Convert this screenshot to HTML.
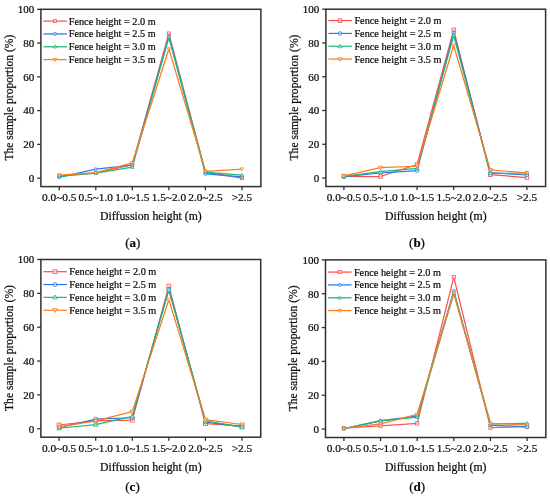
<!DOCTYPE html>
<html><head><meta charset="utf-8"><title>Figure</title>
<style>
html,body{margin:0;padding:0;background:#fff;}
svg{display:block;font-family:"Liberation Serif","Times New Roman",serif;fill:#0a0a0a;}
text{stroke:#0a0a0a;stroke-width:0.22px;}
</style></head><body>
<svg width="550" height="498" viewBox="0 0 550 498">
<rect width="550" height="498" fill="#fff"/>
<g><rect x="40.9" y="9.3" width="220.00" height="177.30" fill="none" stroke="#303030" stroke-width="1.5"/>
<line x1="37.20" x2="40.9" y1="178.16" y2="178.16" stroke="#303030" stroke-width="1.3"/>
<text x="34.30" y="181.96" text-anchor="end" font-size="11">0</text>
<line x1="37.20" x2="40.9" y1="144.39" y2="144.39" stroke="#303030" stroke-width="1.3"/>
<text x="34.30" y="148.19" text-anchor="end" font-size="11">20</text>
<line x1="37.20" x2="40.9" y1="110.61" y2="110.61" stroke="#303030" stroke-width="1.3"/>
<text x="34.30" y="114.41" text-anchor="end" font-size="11">40</text>
<line x1="37.20" x2="40.9" y1="76.84" y2="76.84" stroke="#303030" stroke-width="1.3"/>
<text x="34.30" y="80.64" text-anchor="end" font-size="11">60</text>
<line x1="37.20" x2="40.9" y1="43.07" y2="43.07" stroke="#303030" stroke-width="1.3"/>
<text x="34.30" y="46.87" text-anchor="end" font-size="11">80</text>
<line x1="37.20" x2="40.9" y1="9.30" y2="9.30" stroke="#303030" stroke-width="1.3"/>
<text x="34.30" y="13.10" text-anchor="end" font-size="11">100</text>
<line x1="59.20" x2="59.20" y1="186.6" y2="190.20" stroke="#303030" stroke-width="1.3"/>
<text x="59.20" y="201.30" text-anchor="middle" font-size="11.3">0.0~0.5</text>
<line x1="95.76" x2="95.76" y1="186.6" y2="190.20" stroke="#303030" stroke-width="1.3"/>
<text x="95.76" y="201.30" text-anchor="middle" font-size="11.3">0.5~1.0</text>
<line x1="132.32" x2="132.32" y1="186.6" y2="190.20" stroke="#303030" stroke-width="1.3"/>
<text x="132.32" y="201.30" text-anchor="middle" font-size="11.3">1.0~1.5</text>
<line x1="168.88" x2="168.88" y1="186.6" y2="190.20" stroke="#303030" stroke-width="1.3"/>
<text x="168.88" y="201.30" text-anchor="middle" font-size="11.3">1.5~2.0</text>
<line x1="205.44" x2="205.44" y1="186.6" y2="190.20" stroke="#303030" stroke-width="1.3"/>
<text x="205.44" y="201.30" text-anchor="middle" font-size="11.3">2.0~2.5</text>
<line x1="242.00" x2="242.00" y1="186.6" y2="190.20" stroke="#303030" stroke-width="1.3"/>
<text x="242.00" y="201.30" text-anchor="middle" font-size="11.3">&gt;2.5</text>
<text x="150.90" y="220.40" text-anchor="middle" font-size="11.76">Diffussion height (m)</text>
<text transform="translate(12.70 97.65) rotate(-90)" text-anchor="middle" font-size="11.6">The sample proportion (%)</text>
<polyline points="59.20,175.62 95.76,173.09 132.32,164.65 168.88,33.45 205.44,172.25 242.00,178.16" fill="none" stroke="#FF5458" stroke-width="1.3" stroke-linejoin="round"/>
<polyline points="59.20,177.31 95.76,169.21 132.32,165.16 168.88,36.49 205.44,173.94 242.00,176.81" fill="none" stroke="#2480F0" stroke-width="1.3" stroke-linejoin="round"/>
<polyline points="59.20,176.47 95.76,173.09 132.32,167.18 168.88,37.16 205.44,172.25 242.00,175.12" fill="none" stroke="#1EB97C" stroke-width="1.3" stroke-linejoin="round"/>
<polyline points="59.20,175.12 95.76,172.75 132.32,162.96 168.88,48.98 205.44,171.40 242.00,169.04" fill="none" stroke="#FF7E1E" stroke-width="1.3" stroke-linejoin="round"/>
<rect x="57.70" y="174.12" width="3.00" height="3.00" fill="#fff" fill-opacity="0.5" stroke="#FF5458" stroke-width="0.8"/>
<rect x="94.26" y="171.59" width="3.00" height="3.00" fill="#fff" fill-opacity="0.5" stroke="#FF5458" stroke-width="0.8"/>
<rect x="130.82" y="163.15" width="3.00" height="3.00" fill="#fff" fill-opacity="0.5" stroke="#FF5458" stroke-width="0.8"/>
<rect x="167.38" y="31.95" width="3.00" height="3.00" fill="#fff" fill-opacity="0.5" stroke="#FF5458" stroke-width="0.8"/>
<rect x="203.94" y="170.75" width="3.00" height="3.00" fill="#fff" fill-opacity="0.5" stroke="#FF5458" stroke-width="0.8"/>
<rect x="240.50" y="176.66" width="3.00" height="3.00" fill="#fff" fill-opacity="0.5" stroke="#FF5458" stroke-width="0.8"/>
<circle cx="59.20" cy="177.31" r="1.50" fill="#fff" fill-opacity="0.5" stroke="#2480F0" stroke-width="0.8"/>
<circle cx="95.76" cy="169.21" r="1.50" fill="#fff" fill-opacity="0.5" stroke="#2480F0" stroke-width="0.8"/>
<circle cx="132.32" cy="165.16" r="1.50" fill="#fff" fill-opacity="0.5" stroke="#2480F0" stroke-width="0.8"/>
<circle cx="168.88" cy="36.49" r="1.50" fill="#fff" fill-opacity="0.5" stroke="#2480F0" stroke-width="0.8"/>
<circle cx="205.44" cy="173.94" r="1.50" fill="#fff" fill-opacity="0.5" stroke="#2480F0" stroke-width="0.8"/>
<circle cx="242.00" cy="176.81" r="1.50" fill="#fff" fill-opacity="0.5" stroke="#2480F0" stroke-width="0.8"/>
<path d="M57.48 177.67L60.93 177.67L59.20 174.67Z" fill="#fff" fill-opacity="0.5" stroke="#1EB97C" stroke-width="0.8"/>
<path d="M94.04 174.29L97.48 174.29L95.76 171.29Z" fill="#fff" fill-opacity="0.5" stroke="#1EB97C" stroke-width="0.8"/>
<path d="M130.59 168.38L134.04 168.38L132.32 165.38Z" fill="#fff" fill-opacity="0.5" stroke="#1EB97C" stroke-width="0.8"/>
<path d="M167.16 38.36L170.60 38.36L168.88 35.36Z" fill="#fff" fill-opacity="0.5" stroke="#1EB97C" stroke-width="0.8"/>
<path d="M203.72 173.45L207.16 173.45L205.44 170.45Z" fill="#fff" fill-opacity="0.5" stroke="#1EB97C" stroke-width="0.8"/>
<path d="M240.28 176.32L243.72 176.32L242.00 173.32Z" fill="#fff" fill-opacity="0.5" stroke="#1EB97C" stroke-width="0.8"/>
<path d="M57.48 173.92L60.93 173.92L59.20 176.92Z" fill="#fff" fill-opacity="0.5" stroke="#FF7E1E" stroke-width="0.8"/>
<path d="M94.04 171.55L97.48 171.55L95.76 174.55Z" fill="#fff" fill-opacity="0.5" stroke="#FF7E1E" stroke-width="0.8"/>
<path d="M130.59 161.76L134.04 161.76L132.32 164.76Z" fill="#fff" fill-opacity="0.5" stroke="#FF7E1E" stroke-width="0.8"/>
<path d="M167.16 47.78L170.60 47.78L168.88 50.78Z" fill="#fff" fill-opacity="0.5" stroke="#FF7E1E" stroke-width="0.8"/>
<path d="M203.72 170.20L207.16 170.20L205.44 173.20Z" fill="#fff" fill-opacity="0.5" stroke="#FF7E1E" stroke-width="0.8"/>
<path d="M240.28 167.84L243.72 167.84L242.00 170.84Z" fill="#fff" fill-opacity="0.5" stroke="#FF7E1E" stroke-width="0.8"/>
<line x1="43.40" x2="66.90" y1="21.10" y2="21.10" stroke="#FF5458" stroke-width="1.3"/>
<rect x="53.50" y="19.60" width="3.00" height="3.00" fill="#fff" fill-opacity="0.5" stroke="#FF5458" stroke-width="0.8"/>
<text x="68.70" y="24.60" font-size="10.28">Fence height = 2.0 m</text>
<line x1="43.40" x2="66.90" y1="33.93" y2="33.93" stroke="#2480F0" stroke-width="1.3"/>
<circle cx="55.00" cy="33.93" r="1.50" fill="#fff" fill-opacity="0.5" stroke="#2480F0" stroke-width="0.8"/>
<text x="68.70" y="37.43" font-size="10.28">Fence height = 2.5 m</text>
<line x1="43.40" x2="66.90" y1="46.76" y2="46.76" stroke="#1EB97C" stroke-width="1.3"/>
<path d="M53.27 47.96L56.73 47.96L55.00 44.96Z" fill="#fff" fill-opacity="0.5" stroke="#1EB97C" stroke-width="0.8"/>
<text x="68.70" y="50.26" font-size="10.28">Fence height = 3.0 m</text>
<line x1="43.40" x2="66.90" y1="59.59" y2="59.59" stroke="#FF7E1E" stroke-width="1.3"/>
<path d="M53.27 58.39L56.73 58.39L55.00 61.39Z" fill="#fff" fill-opacity="0.5" stroke="#FF7E1E" stroke-width="0.8"/>
<text x="68.70" y="63.09" font-size="10.28">Fence height = 3.5 m</text>
<text x="132.8" y="246.9" text-anchor="middle" font-size="13">(<tspan font-weight="bold">a</tspan>)</text></g>
<g><rect x="325.9" y="9.2" width="219.70" height="177.30" fill="none" stroke="#303030" stroke-width="1.5"/>
<line x1="322.20" x2="325.9" y1="178.06" y2="178.06" stroke="#303030" stroke-width="1.3"/>
<text x="319.30" y="181.86" text-anchor="end" font-size="11">0</text>
<line x1="322.20" x2="325.9" y1="144.29" y2="144.29" stroke="#303030" stroke-width="1.3"/>
<text x="319.30" y="148.09" text-anchor="end" font-size="11">20</text>
<line x1="322.20" x2="325.9" y1="110.51" y2="110.51" stroke="#303030" stroke-width="1.3"/>
<text x="319.30" y="114.31" text-anchor="end" font-size="11">40</text>
<line x1="322.20" x2="325.9" y1="76.74" y2="76.74" stroke="#303030" stroke-width="1.3"/>
<text x="319.30" y="80.54" text-anchor="end" font-size="11">60</text>
<line x1="322.20" x2="325.9" y1="42.97" y2="42.97" stroke="#303030" stroke-width="1.3"/>
<text x="319.30" y="46.77" text-anchor="end" font-size="11">80</text>
<line x1="322.20" x2="325.9" y1="9.20" y2="9.20" stroke="#303030" stroke-width="1.3"/>
<text x="319.30" y="13.00" text-anchor="end" font-size="11">100</text>
<line x1="343.90" x2="343.90" y1="186.5" y2="190.10" stroke="#303030" stroke-width="1.3"/>
<text x="343.90" y="201.20" text-anchor="middle" font-size="11.3">0.0~0.5</text>
<line x1="380.50" x2="380.50" y1="186.5" y2="190.10" stroke="#303030" stroke-width="1.3"/>
<text x="380.50" y="201.20" text-anchor="middle" font-size="11.3">0.5~1.0</text>
<line x1="417.10" x2="417.10" y1="186.5" y2="190.10" stroke="#303030" stroke-width="1.3"/>
<text x="417.10" y="201.20" text-anchor="middle" font-size="11.3">1.0~1.5</text>
<line x1="453.70" x2="453.70" y1="186.5" y2="190.10" stroke="#303030" stroke-width="1.3"/>
<text x="453.70" y="201.20" text-anchor="middle" font-size="11.3">1.5~2.0</text>
<line x1="490.30" x2="490.30" y1="186.5" y2="190.10" stroke="#303030" stroke-width="1.3"/>
<text x="490.30" y="201.20" text-anchor="middle" font-size="11.3">2.0~2.5</text>
<line x1="526.90" x2="526.90" y1="186.5" y2="190.10" stroke="#303030" stroke-width="1.3"/>
<text x="526.90" y="201.20" text-anchor="middle" font-size="11.3">&gt;2.5</text>
<text x="435.75" y="220.30" text-anchor="middle" font-size="11.76">Diffussion height (m)</text>
<text transform="translate(297.70 97.55) rotate(-90)" text-anchor="middle" font-size="11.6">The sample proportion (%)</text>
<polyline points="343.90,176.37 380.50,176.54 417.10,164.55 453.70,29.80 490.30,174.68 526.90,177.55" fill="none" stroke="#FF4C4C" stroke-width="1.2" stroke-linejoin="round"/>
<polyline points="343.90,176.71 380.50,172.99 417.10,170.63 453.70,32.84 490.30,172.65 526.90,175.02" fill="none" stroke="#1E78F0" stroke-width="1.2" stroke-linejoin="round"/>
<polyline points="343.90,176.37 380.50,171.64 417.10,168.43 453.70,35.37 490.30,173.50 526.90,172.99" fill="none" stroke="#1EB978" stroke-width="1.2" stroke-linejoin="round"/>
<polyline points="343.90,175.86 380.50,167.59 417.10,166.24 453.70,45.50 490.30,169.95 526.90,172.82" fill="none" stroke="#FF7814" stroke-width="1.2" stroke-linejoin="round"/>
<rect x="342.15" y="174.62" width="3.50" height="3.50" fill="#fff" fill-opacity="0.5" stroke="#FF4C4C" stroke-width="0.8"/>
<rect x="378.75" y="174.79" width="3.50" height="3.50" fill="#fff" fill-opacity="0.5" stroke="#FF4C4C" stroke-width="0.8"/>
<rect x="415.35" y="162.80" width="3.50" height="3.50" fill="#fff" fill-opacity="0.5" stroke="#FF4C4C" stroke-width="0.8"/>
<rect x="451.95" y="28.05" width="3.50" height="3.50" fill="#fff" fill-opacity="0.5" stroke="#FF4C4C" stroke-width="0.8"/>
<rect x="488.55" y="172.93" width="3.50" height="3.50" fill="#fff" fill-opacity="0.5" stroke="#FF4C4C" stroke-width="0.8"/>
<rect x="525.15" y="175.80" width="3.50" height="3.50" fill="#fff" fill-opacity="0.5" stroke="#FF4C4C" stroke-width="0.8"/>
<circle cx="343.90" cy="176.71" r="1.75" fill="#fff" fill-opacity="0.5" stroke="#1E78F0" stroke-width="0.8"/>
<circle cx="380.50" cy="172.99" r="1.75" fill="#fff" fill-opacity="0.5" stroke="#1E78F0" stroke-width="0.8"/>
<circle cx="417.10" cy="170.63" r="1.75" fill="#fff" fill-opacity="0.5" stroke="#1E78F0" stroke-width="0.8"/>
<circle cx="453.70" cy="32.84" r="1.75" fill="#fff" fill-opacity="0.5" stroke="#1E78F0" stroke-width="0.8"/>
<circle cx="490.30" cy="172.65" r="1.75" fill="#fff" fill-opacity="0.5" stroke="#1E78F0" stroke-width="0.8"/>
<circle cx="526.90" cy="175.02" r="1.75" fill="#fff" fill-opacity="0.5" stroke="#1E78F0" stroke-width="0.8"/>
<path d="M341.89 177.77L345.91 177.77L343.90 174.27Z" fill="#fff" fill-opacity="0.5" stroke="#1EB978" stroke-width="0.8"/>
<path d="M378.49 173.04L382.51 173.04L380.50 169.54Z" fill="#fff" fill-opacity="0.5" stroke="#1EB978" stroke-width="0.8"/>
<path d="M415.09 169.83L419.11 169.83L417.10 166.33Z" fill="#fff" fill-opacity="0.5" stroke="#1EB978" stroke-width="0.8"/>
<path d="M451.69 36.77L455.71 36.77L453.70 33.27Z" fill="#fff" fill-opacity="0.5" stroke="#1EB978" stroke-width="0.8"/>
<path d="M488.29 174.90L492.31 174.90L490.30 171.40Z" fill="#fff" fill-opacity="0.5" stroke="#1EB978" stroke-width="0.8"/>
<path d="M524.89 174.39L528.91 174.39L526.90 170.89Z" fill="#fff" fill-opacity="0.5" stroke="#1EB978" stroke-width="0.8"/>
<path d="M341.89 174.46L345.91 174.46L343.90 177.96Z" fill="#fff" fill-opacity="0.5" stroke="#FF7814" stroke-width="0.8"/>
<path d="M378.49 166.19L382.51 166.19L380.50 169.69Z" fill="#fff" fill-opacity="0.5" stroke="#FF7814" stroke-width="0.8"/>
<path d="M415.09 164.84L419.11 164.84L417.10 168.34Z" fill="#fff" fill-opacity="0.5" stroke="#FF7814" stroke-width="0.8"/>
<path d="M451.69 44.10L455.71 44.10L453.70 47.60Z" fill="#fff" fill-opacity="0.5" stroke="#FF7814" stroke-width="0.8"/>
<path d="M488.29 168.55L492.31 168.55L490.30 172.05Z" fill="#fff" fill-opacity="0.5" stroke="#FF7814" stroke-width="0.8"/>
<path d="M524.89 171.42L528.91 171.42L526.90 174.92Z" fill="#fff" fill-opacity="0.5" stroke="#FF7814" stroke-width="0.8"/>
<line x1="328.40" x2="351.90" y1="20.60" y2="20.60" stroke="#FF4C4C" stroke-width="1.2"/>
<rect x="338.25" y="18.85" width="3.50" height="3.50" fill="#fff" fill-opacity="0.5" stroke="#FF4C4C" stroke-width="0.8"/>
<text x="354.40" y="24.10" font-size="10.28">Fence height = 2.0 m</text>
<line x1="328.40" x2="351.90" y1="33.43" y2="33.43" stroke="#1E78F0" stroke-width="1.2"/>
<circle cx="340.00" cy="33.43" r="1.75" fill="#fff" fill-opacity="0.5" stroke="#1E78F0" stroke-width="0.8"/>
<text x="354.40" y="36.93" font-size="10.28">Fence height = 2.5 m</text>
<line x1="328.40" x2="351.90" y1="46.26" y2="46.26" stroke="#1EB978" stroke-width="1.2"/>
<path d="M337.99 47.66L342.01 47.66L340.00 44.16Z" fill="#fff" fill-opacity="0.5" stroke="#1EB978" stroke-width="0.8"/>
<text x="354.40" y="49.76" font-size="10.28">Fence height = 3.0 m</text>
<line x1="328.40" x2="351.90" y1="59.09" y2="59.09" stroke="#FF7814" stroke-width="1.2"/>
<path d="M337.99 57.69L342.01 57.69L340.00 61.19Z" fill="#fff" fill-opacity="0.5" stroke="#FF7814" stroke-width="0.8"/>
<text x="354.40" y="62.59" font-size="10.28">Fence height = 3.5 m</text>
<text x="417.0" y="246.9" text-anchor="middle" font-size="13">(<tspan font-weight="bold">b</tspan>)</text></g>
<g><rect x="40.9" y="259.5" width="219.80" height="177.70" fill="none" stroke="#303030" stroke-width="1.5"/>
<line x1="37.20" x2="40.9" y1="428.74" y2="428.74" stroke="#303030" stroke-width="1.3"/>
<text x="34.30" y="432.54" text-anchor="end" font-size="11">0</text>
<line x1="37.20" x2="40.9" y1="394.89" y2="394.89" stroke="#303030" stroke-width="1.3"/>
<text x="34.30" y="398.69" text-anchor="end" font-size="11">20</text>
<line x1="37.20" x2="40.9" y1="361.04" y2="361.04" stroke="#303030" stroke-width="1.3"/>
<text x="34.30" y="364.84" text-anchor="end" font-size="11">40</text>
<line x1="37.20" x2="40.9" y1="327.20" y2="327.20" stroke="#303030" stroke-width="1.3"/>
<text x="34.30" y="331.00" text-anchor="end" font-size="11">60</text>
<line x1="37.20" x2="40.9" y1="293.35" y2="293.35" stroke="#303030" stroke-width="1.3"/>
<text x="34.30" y="297.15" text-anchor="end" font-size="11">80</text>
<line x1="37.20" x2="40.9" y1="259.50" y2="259.50" stroke="#303030" stroke-width="1.3"/>
<text x="34.30" y="263.30" text-anchor="end" font-size="11">100</text>
<line x1="59.10" x2="59.10" y1="437.2" y2="440.80" stroke="#303030" stroke-width="1.3"/>
<text x="59.10" y="451.90" text-anchor="middle" font-size="11.3">0.0~0.5</text>
<line x1="95.68" x2="95.68" y1="437.2" y2="440.80" stroke="#303030" stroke-width="1.3"/>
<text x="95.68" y="451.90" text-anchor="middle" font-size="11.3">0.5~1.0</text>
<line x1="132.26" x2="132.26" y1="437.2" y2="440.80" stroke="#303030" stroke-width="1.3"/>
<text x="132.26" y="451.90" text-anchor="middle" font-size="11.3">1.0~1.5</text>
<line x1="168.84" x2="168.84" y1="437.2" y2="440.80" stroke="#303030" stroke-width="1.3"/>
<text x="168.84" y="451.90" text-anchor="middle" font-size="11.3">1.5~2.0</text>
<line x1="205.42" x2="205.42" y1="437.2" y2="440.80" stroke="#303030" stroke-width="1.3"/>
<text x="205.42" y="451.90" text-anchor="middle" font-size="11.3">2.0~2.5</text>
<line x1="242.00" x2="242.00" y1="437.2" y2="440.80" stroke="#303030" stroke-width="1.3"/>
<text x="242.00" y="451.90" text-anchor="middle" font-size="11.3">&gt;2.5</text>
<text x="150.80" y="471.00" text-anchor="middle" font-size="11.76">Diffussion height (m)</text>
<text transform="translate(12.70 348.05) rotate(-90)" text-anchor="middle" font-size="11.6">The sample proportion (%)</text>
<polyline points="59.10,425.01 95.68,420.95 132.26,420.11 168.84,286.07 205.42,423.66 242.00,425.86" fill="none" stroke="#FF4C4C" stroke-width="1.2" stroke-linejoin="round"/>
<polyline points="59.10,427.72 95.68,419.09 132.26,417.74 168.84,289.12 205.42,421.97 242.00,426.88" fill="none" stroke="#1E78F0" stroke-width="1.2" stroke-linejoin="round"/>
<polyline points="59.10,428.23 95.68,424.68 132.26,416.38 168.84,289.96 205.42,420.78 242.00,427.21" fill="none" stroke="#1EB978" stroke-width="1.2" stroke-linejoin="round"/>
<polyline points="59.10,426.88 95.68,420.95 132.26,411.65 168.84,299.78 205.42,419.60 242.00,424.51" fill="none" stroke="#FF7814" stroke-width="1.2" stroke-linejoin="round"/>
<rect x="57.15" y="423.06" width="3.90" height="3.90" fill="#fff" fill-opacity="0.5" stroke="#FF4C4C" stroke-width="0.8"/>
<rect x="93.73" y="419.00" width="3.90" height="3.90" fill="#fff" fill-opacity="0.5" stroke="#FF4C4C" stroke-width="0.8"/>
<rect x="130.31" y="418.16" width="3.90" height="3.90" fill="#fff" fill-opacity="0.5" stroke="#FF4C4C" stroke-width="0.8"/>
<rect x="166.89" y="284.12" width="3.90" height="3.90" fill="#fff" fill-opacity="0.5" stroke="#FF4C4C" stroke-width="0.8"/>
<rect x="203.47" y="421.71" width="3.90" height="3.90" fill="#fff" fill-opacity="0.5" stroke="#FF4C4C" stroke-width="0.8"/>
<rect x="240.05" y="423.91" width="3.90" height="3.90" fill="#fff" fill-opacity="0.5" stroke="#FF4C4C" stroke-width="0.8"/>
<circle cx="59.10" cy="427.72" r="1.95" fill="#fff" fill-opacity="0.5" stroke="#1E78F0" stroke-width="0.8"/>
<circle cx="95.68" cy="419.09" r="1.95" fill="#fff" fill-opacity="0.5" stroke="#1E78F0" stroke-width="0.8"/>
<circle cx="132.26" cy="417.74" r="1.95" fill="#fff" fill-opacity="0.5" stroke="#1E78F0" stroke-width="0.8"/>
<circle cx="168.84" cy="289.12" r="1.95" fill="#fff" fill-opacity="0.5" stroke="#1E78F0" stroke-width="0.8"/>
<circle cx="205.42" cy="421.97" r="1.95" fill="#fff" fill-opacity="0.5" stroke="#1E78F0" stroke-width="0.8"/>
<circle cx="242.00" cy="426.88" r="1.95" fill="#fff" fill-opacity="0.5" stroke="#1E78F0" stroke-width="0.8"/>
<path d="M56.86 429.79L61.34 429.79L59.10 425.89Z" fill="#fff" fill-opacity="0.5" stroke="#1EB978" stroke-width="0.8"/>
<path d="M93.44 426.24L97.92 426.24L95.68 422.34Z" fill="#fff" fill-opacity="0.5" stroke="#1EB978" stroke-width="0.8"/>
<path d="M130.02 417.94L134.50 417.94L132.26 414.04Z" fill="#fff" fill-opacity="0.5" stroke="#1EB978" stroke-width="0.8"/>
<path d="M166.60 291.52L171.08 291.52L168.84 287.62Z" fill="#fff" fill-opacity="0.5" stroke="#1EB978" stroke-width="0.8"/>
<path d="M203.18 422.34L207.66 422.34L205.42 418.44Z" fill="#fff" fill-opacity="0.5" stroke="#1EB978" stroke-width="0.8"/>
<path d="M239.76 428.77L244.24 428.77L242.00 424.87Z" fill="#fff" fill-opacity="0.5" stroke="#1EB978" stroke-width="0.8"/>
<path d="M56.86 425.32L61.34 425.32L59.10 429.22Z" fill="#fff" fill-opacity="0.5" stroke="#FF7814" stroke-width="0.8"/>
<path d="M93.44 419.39L97.92 419.39L95.68 423.29Z" fill="#fff" fill-opacity="0.5" stroke="#FF7814" stroke-width="0.8"/>
<path d="M130.02 410.09L134.50 410.09L132.26 413.99Z" fill="#fff" fill-opacity="0.5" stroke="#FF7814" stroke-width="0.8"/>
<path d="M166.60 298.22L171.08 298.22L168.84 302.12Z" fill="#fff" fill-opacity="0.5" stroke="#FF7814" stroke-width="0.8"/>
<path d="M203.18 418.04L207.66 418.04L205.42 421.94Z" fill="#fff" fill-opacity="0.5" stroke="#FF7814" stroke-width="0.8"/>
<path d="M239.76 422.95L244.24 422.95L242.00 426.85Z" fill="#fff" fill-opacity="0.5" stroke="#FF7814" stroke-width="0.8"/>
<line x1="43.40" x2="66.90" y1="271.70" y2="271.70" stroke="#FF4C4C" stroke-width="1.2"/>
<rect x="53.05" y="269.75" width="3.90" height="3.90" fill="#fff" fill-opacity="0.5" stroke="#FF4C4C" stroke-width="0.8"/>
<text x="69.30" y="275.20" font-size="10.28">Fence height = 2.0 m</text>
<line x1="43.40" x2="66.90" y1="284.53" y2="284.53" stroke="#1E78F0" stroke-width="1.2"/>
<circle cx="55.00" cy="284.53" r="1.95" fill="#fff" fill-opacity="0.5" stroke="#1E78F0" stroke-width="0.8"/>
<text x="69.30" y="288.03" font-size="10.28">Fence height = 2.5 m</text>
<line x1="43.40" x2="66.90" y1="297.36" y2="297.36" stroke="#1EB978" stroke-width="1.2"/>
<path d="M52.76 298.92L57.24 298.92L55.00 295.02Z" fill="#fff" fill-opacity="0.5" stroke="#1EB978" stroke-width="0.8"/>
<text x="69.30" y="300.86" font-size="10.28">Fence height = 3.0 m</text>
<line x1="43.40" x2="66.90" y1="310.19" y2="310.19" stroke="#FF7814" stroke-width="1.2"/>
<path d="M52.76 308.63L57.24 308.63L55.00 312.53Z" fill="#fff" fill-opacity="0.5" stroke="#FF7814" stroke-width="0.8"/>
<text x="69.30" y="313.69" font-size="10.28">Fence height = 3.5 m</text>
<text x="132.5" y="490.5" text-anchor="middle" font-size="13">(<tspan font-weight="bold">c</tspan>)</text></g>
<g><rect x="325.5" y="259.9" width="220.35" height="177.60" fill="none" stroke="#303030" stroke-width="1.5"/>
<line x1="321.80" x2="325.5" y1="429.04" y2="429.04" stroke="#303030" stroke-width="1.3"/>
<text x="318.90" y="432.84" text-anchor="end" font-size="11">0</text>
<line x1="321.80" x2="325.5" y1="395.21" y2="395.21" stroke="#303030" stroke-width="1.3"/>
<text x="318.90" y="399.01" text-anchor="end" font-size="11">20</text>
<line x1="321.80" x2="325.5" y1="361.39" y2="361.39" stroke="#303030" stroke-width="1.3"/>
<text x="318.90" y="365.19" text-anchor="end" font-size="11">40</text>
<line x1="321.80" x2="325.5" y1="327.56" y2="327.56" stroke="#303030" stroke-width="1.3"/>
<text x="318.90" y="331.36" text-anchor="end" font-size="11">60</text>
<line x1="321.80" x2="325.5" y1="293.73" y2="293.73" stroke="#303030" stroke-width="1.3"/>
<text x="318.90" y="297.53" text-anchor="end" font-size="11">80</text>
<line x1="321.80" x2="325.5" y1="259.90" y2="259.90" stroke="#303030" stroke-width="1.3"/>
<text x="318.90" y="263.70" text-anchor="end" font-size="11">100</text>
<line x1="343.90" x2="343.90" y1="437.5" y2="441.10" stroke="#303030" stroke-width="1.3"/>
<text x="343.90" y="452.20" text-anchor="middle" font-size="11.3">0.0~0.5</text>
<line x1="380.54" x2="380.54" y1="437.5" y2="441.10" stroke="#303030" stroke-width="1.3"/>
<text x="380.54" y="452.20" text-anchor="middle" font-size="11.3">0.5~1.0</text>
<line x1="417.18" x2="417.18" y1="437.5" y2="441.10" stroke="#303030" stroke-width="1.3"/>
<text x="417.18" y="452.20" text-anchor="middle" font-size="11.3">1.0~1.5</text>
<line x1="453.82" x2="453.82" y1="437.5" y2="441.10" stroke="#303030" stroke-width="1.3"/>
<text x="453.82" y="452.20" text-anchor="middle" font-size="11.3">1.5~2.0</text>
<line x1="490.46" x2="490.46" y1="437.5" y2="441.10" stroke="#303030" stroke-width="1.3"/>
<text x="490.46" y="452.20" text-anchor="middle" font-size="11.3">2.0~2.5</text>
<line x1="527.10" x2="527.10" y1="437.5" y2="441.10" stroke="#303030" stroke-width="1.3"/>
<text x="527.10" y="452.20" text-anchor="middle" font-size="11.3">&gt;2.5</text>
<text x="435.68" y="471.30" text-anchor="middle" font-size="11.76">Diffussion height (m)</text>
<text transform="translate(297.30 348.40) rotate(-90)" text-anchor="middle" font-size="11.6">The sample proportion (%)</text>
<polyline points="343.90,428.03 380.54,425.83 417.18,423.46 453.82,277.15 490.46,427.69 527.10,426.67" fill="none" stroke="#FF5458" stroke-width="1.3" stroke-linejoin="round"/>
<polyline points="343.90,428.54 380.54,420.75 417.18,416.19 453.82,291.02 490.46,425.15 527.10,426.84" fill="none" stroke="#2480F0" stroke-width="1.3" stroke-linejoin="round"/>
<polyline points="343.90,428.70 380.54,420.92 417.18,417.20 453.82,293.22 490.46,423.97 527.10,423.29" fill="none" stroke="#1EB97C" stroke-width="1.3" stroke-linejoin="round"/>
<polyline points="343.90,428.37 380.54,423.97 417.18,414.33 453.82,292.88 490.46,423.29 527.10,424.81" fill="none" stroke="#FF7E1E" stroke-width="1.3" stroke-linejoin="round"/>
<rect x="342.30" y="426.43" width="3.20" height="3.20" fill="#fff" fill-opacity="0.5" stroke="#FF5458" stroke-width="0.8"/>
<rect x="378.94" y="424.23" width="3.20" height="3.20" fill="#fff" fill-opacity="0.5" stroke="#FF5458" stroke-width="0.8"/>
<rect x="415.58" y="421.86" width="3.20" height="3.20" fill="#fff" fill-opacity="0.5" stroke="#FF5458" stroke-width="0.8"/>
<rect x="452.22" y="275.55" width="3.20" height="3.20" fill="#fff" fill-opacity="0.5" stroke="#FF5458" stroke-width="0.8"/>
<rect x="488.86" y="426.09" width="3.20" height="3.20" fill="#fff" fill-opacity="0.5" stroke="#FF5458" stroke-width="0.8"/>
<rect x="525.50" y="425.07" width="3.20" height="3.20" fill="#fff" fill-opacity="0.5" stroke="#FF5458" stroke-width="0.8"/>
<circle cx="343.90" cy="428.54" r="1.60" fill="#fff" fill-opacity="0.5" stroke="#2480F0" stroke-width="0.8"/>
<circle cx="380.54" cy="420.75" r="1.60" fill="#fff" fill-opacity="0.5" stroke="#2480F0" stroke-width="0.8"/>
<circle cx="417.18" cy="416.19" r="1.60" fill="#fff" fill-opacity="0.5" stroke="#2480F0" stroke-width="0.8"/>
<circle cx="453.82" cy="291.02" r="1.60" fill="#fff" fill-opacity="0.5" stroke="#2480F0" stroke-width="0.8"/>
<circle cx="490.46" cy="425.15" r="1.60" fill="#fff" fill-opacity="0.5" stroke="#2480F0" stroke-width="0.8"/>
<circle cx="527.10" cy="426.84" r="1.60" fill="#fff" fill-opacity="0.5" stroke="#2480F0" stroke-width="0.8"/>
<path d="M342.06 429.98L345.74 429.98L343.90 426.78Z" fill="#fff" fill-opacity="0.5" stroke="#1EB97C" stroke-width="0.8"/>
<path d="M378.70 422.20L382.38 422.20L380.54 419.00Z" fill="#fff" fill-opacity="0.5" stroke="#1EB97C" stroke-width="0.8"/>
<path d="M415.34 418.48L419.02 418.48L417.18 415.28Z" fill="#fff" fill-opacity="0.5" stroke="#1EB97C" stroke-width="0.8"/>
<path d="M451.98 294.50L455.66 294.50L453.82 291.30Z" fill="#fff" fill-opacity="0.5" stroke="#1EB97C" stroke-width="0.8"/>
<path d="M488.62 425.25L492.30 425.25L490.46 422.05Z" fill="#fff" fill-opacity="0.5" stroke="#1EB97C" stroke-width="0.8"/>
<path d="M525.26 424.57L528.94 424.57L527.10 421.37Z" fill="#fff" fill-opacity="0.5" stroke="#1EB97C" stroke-width="0.8"/>
<path d="M342.06 427.09L345.74 427.09L343.90 430.29Z" fill="#fff" fill-opacity="0.5" stroke="#FF7E1E" stroke-width="0.8"/>
<path d="M378.70 422.69L382.38 422.69L380.54 425.89Z" fill="#fff" fill-opacity="0.5" stroke="#FF7E1E" stroke-width="0.8"/>
<path d="M415.34 413.05L419.02 413.05L417.18 416.25Z" fill="#fff" fill-opacity="0.5" stroke="#FF7E1E" stroke-width="0.8"/>
<path d="M451.98 291.60L455.66 291.60L453.82 294.80Z" fill="#fff" fill-opacity="0.5" stroke="#FF7E1E" stroke-width="0.8"/>
<path d="M488.62 422.01L492.30 422.01L490.46 425.21Z" fill="#fff" fill-opacity="0.5" stroke="#FF7E1E" stroke-width="0.8"/>
<path d="M525.26 423.53L528.94 423.53L527.10 426.73Z" fill="#fff" fill-opacity="0.5" stroke="#FF7E1E" stroke-width="0.8"/>
<line x1="328.00" x2="351.50" y1="272.10" y2="272.10" stroke="#FF5458" stroke-width="1.3"/>
<rect x="338.00" y="270.50" width="3.20" height="3.20" fill="#fff" fill-opacity="0.5" stroke="#FF5458" stroke-width="0.8"/>
<text x="353.90" y="275.60" font-size="10.28">Fence height = 2.0 m</text>
<line x1="328.00" x2="351.50" y1="284.93" y2="284.93" stroke="#2480F0" stroke-width="1.3"/>
<circle cx="339.60" cy="284.93" r="1.60" fill="#fff" fill-opacity="0.5" stroke="#2480F0" stroke-width="0.8"/>
<text x="353.90" y="288.43" font-size="10.28">Fence height = 2.5 m</text>
<line x1="328.00" x2="351.50" y1="297.76" y2="297.76" stroke="#1EB97C" stroke-width="1.3"/>
<path d="M337.76 299.04L341.44 299.04L339.60 295.84Z" fill="#fff" fill-opacity="0.5" stroke="#1EB97C" stroke-width="0.8"/>
<text x="353.90" y="301.26" font-size="10.28">Fence height = 3.0 m</text>
<line x1="328.00" x2="351.50" y1="310.59" y2="310.59" stroke="#FF7E1E" stroke-width="1.3"/>
<path d="M337.76 309.31L341.44 309.31L339.60 312.51Z" fill="#fff" fill-opacity="0.5" stroke="#FF7E1E" stroke-width="0.8"/>
<text x="353.90" y="314.09" font-size="10.28">Fence height = 3.5 m</text>
<text x="417.1" y="491.0" text-anchor="middle" font-size="13">(<tspan font-weight="bold">d</tspan>)</text></g>
</svg>
</body></html>
